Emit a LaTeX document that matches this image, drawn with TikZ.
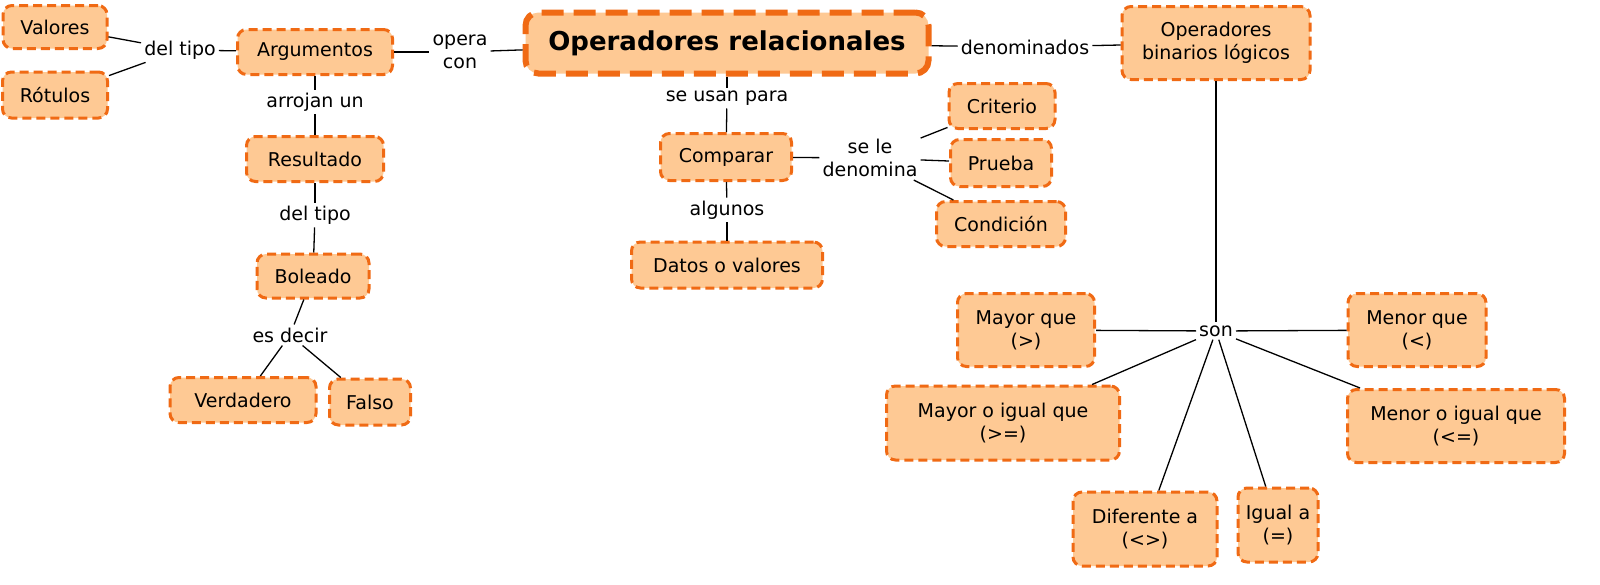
\documentclass[tikz,border=0pt]{standalone}
\usepackage{fontspec}
\setmainfont{DejaVu Sans}
\definecolor{boxfill}{HTML}{FEC994}
\definecolor{bord}{HTML}{F06A14}
\begin{document}
\begin{tikzpicture}[x=1pt,y=-1pt,
  box/.style={draw=bord, fill=boxfill, line width=3pt, dash pattern=on 9pt off 5pt, rounded corners=9pt, align=center, inner sep=2pt, font=\fontsize{19}{23}\selectfont},
  lab/.style={align=center, inner sep=3pt, font=\fontsize{19}{23}\selectfont},
  conn/.style={line width=1.3pt}]
\useasboundingbox (0,0) rectangle (1600,584);
\fill[white] (0,0) rectangle (1600,584);
\node[box,minimum width=104,minimum height=43] (val) at (55,27) {Valores};
\node[box,minimum width=105,minimum height=46] (rot) at (55,95) {Rótulos};
\node[lab] (dt1) at (180,50) {del tipo};
\node[box,minimum width=155,minimum height=45] (arg) at (315,52) {Argumentos};
\node[lab] (oc) at (460,52) {opera\\con};
\node[box,minimum width=403,minimum height=61,line width=6pt,dash pattern=on 22pt off 10pt,rounded corners=13pt,font=\fontsize{26}{30}\selectfont\bfseries] (or) at (727,43) {Operadores relacionales};
\node[lab] (den) at (1025,47) {denominados};
\node[box,minimum width=188,minimum height=73] (obl) at (1216,43) {Operadores\\binarios lógicos};
\node[lab] (arr) at (315,102) {arrojan un};
\node[box,minimum width=137,minimum height=45] (res) at (315,159) {Resultado};
\node[lab] (dt2) at (315,215) {del tipo};
\node[box,minimum width=112,minimum height=44] (bol) at (313,276) {Boleado};
\node[lab] (ed) at (290,335) {es decir};
\node[box,minimum width=146,minimum height=45] (ver) at (243,400) {Verdadero};
\node[box,minimum width=81,minimum height=46] (fal) at (370,402) {Falso};
\node[lab] (sup) at (727,98) {se usan para};
\node[box,minimum width=131,minimum height=47] (com) at (726,157) {Comparar};
\node[lab] (alg) at (727,210) {algunos};
\node[box,minimum width=191,minimum height=46] (dat) at (727,265) {Datos o valores};
\node[lab] (sld) at (870,158) {se le\\denomina};
\node[box,minimum width=106,minimum height=45] (cri) at (1002,106) {Criterio};
\node[box,minimum width=101,minimum height=47] (pru) at (1001,163) {Prueba};
\node[box,minimum width=129,minimum height=45] (con) at (1001,224) {Condición};
\node[lab] (son) at (1216,331) {son};
\node[box,minimum width=137,minimum height=73] (may) at (1026,330) {Mayor que\\(>)};
\node[box,minimum width=138,minimum height=73] (men) at (1417,330) {Menor que\\(<)};
\node[box,minimum width=233,minimum height=74] (mig) at (1003,423) {Mayor o igual que\\(>=)};
\node[box,minimum width=217,minimum height=73] (meig) at (1456,426) {Menor o igual que\\(<=)};
\node[box,minimum width=144,minimum height=74] (dif) at (1145,529) {Diferente a\\(<>)};
\node[box,minimum width=80,minimum height=74] (igu) at (1278,525) {Igual a\\(=)};
\begin{scope}[conn]
\draw (val) -- (dt1); \draw (rot) -- (dt1); \draw (dt1) -- (arg);
\draw (arg) -- (oc); \draw (oc) -- (or);
\draw (or) -- (den); \draw (den) -- (obl);
\draw (arg) -- (arr); \draw (arr) -- (res); \draw (res) -- (dt2); \draw (dt2) -- (bol);
\draw (bol) -- (ed); \draw (ed) -- (ver); \draw (ed) -- (fal);
\draw (or) -- (sup); \draw (sup) -- (com); \draw (com) -- (alg); \draw (alg) -- (dat);
\draw (com) -- (sld); \draw (sld) -- (cri); \draw (sld) -- (pru); \draw (sld) -- (con);
\draw (obl) -- (son);
\draw (son) -- (may); \draw (son) -- (men); \draw (son) -- (mig); \draw (son) -- (meig); \draw (son) -- (dif); \draw (son) -- (igu);
\end{scope}
\end{tikzpicture}
\end{document}
